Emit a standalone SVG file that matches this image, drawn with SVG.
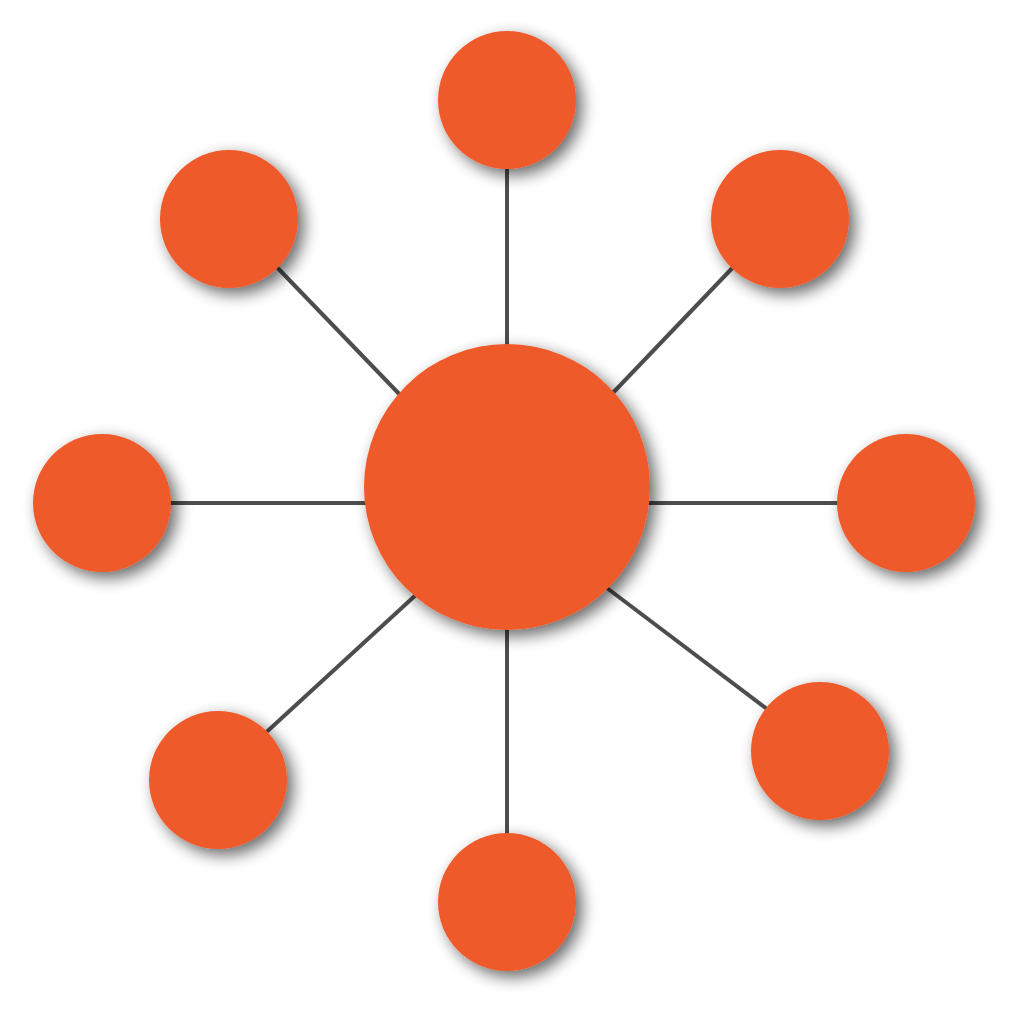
<svg xmlns="http://www.w3.org/2000/svg" width="1024" height="1024" viewBox="0 0 1024 1024">
<defs>
<filter id="sh" x="-30%" y="-30%" width="160%" height="160%">
<feGaussianBlur in="SourceAlpha" stdDeviation="8"/>
<feOffset dx="6" dy="6" result="b"/>
<feComponentTransfer><feFuncA type="linear" slope="0.6"/></feComponentTransfer>
<feMerge><feMergeNode/><feMergeNode in="SourceGraphic"/></feMerge>
</filter>
<style>
.node{fill:#EF5A2A;filter:url(#sh)}
.edge{stroke:#4D4D4D;stroke-width:4;fill:none}
</style>
</defs>
<rect width="1024" height="1024" fill="#ffffff"/>
<g id="connectors">
<line class="edge" x1="507" y1="160" x2="507" y2="350"/>
<line class="edge" x1="270" y1="260" x2="405" y2="400"/>
<line class="edge" x1="740" y1="260" x2="608" y2="398"/>
<line class="edge" x1="160" y1="503" x2="370" y2="503"/>
<line class="edge" x1="645" y1="503" x2="845" y2="503"/>
<line class="edge" x1="260" y1="738" x2="418" y2="593"/>
<line class="edge" x1="775" y1="715" x2="603" y2="585"/>
<line class="edge" x1="507" y1="620" x2="507" y2="840"/>
</g>
<g id="center"><circle class="node" cx="507" cy="487" r="143"/></g>
<g id="n-top"><circle class="node" cx="507" cy="100" r="69"/></g>
<g id="n-topleft"><circle class="node" cx="229" cy="219" r="69"/></g>
<g id="n-topright"><circle class="node" cx="780" cy="219" r="69"/></g>
<g id="n-left"><circle class="node" cx="102" cy="503" r="69"/></g>
<g id="n-right"><circle class="node" cx="906" cy="503" r="69"/></g>
<g id="n-bottomleft"><circle class="node" cx="218" cy="780" r="69"/></g>
<g id="n-bottomright"><circle class="node" cx="820" cy="751" r="69"/></g>
<g id="n-bottom"><circle class="node" cx="507" cy="902" r="69"/></g>
</svg>
